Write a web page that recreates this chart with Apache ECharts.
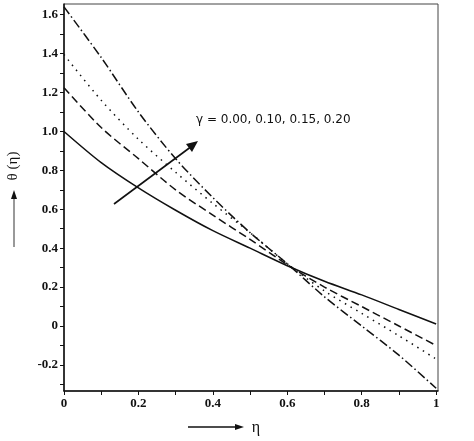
<!DOCTYPE html>
<html><head><meta charset="utf-8">
<script src="https://cdn.jsdelivr.net/npm/echarts@6/dist/echarts.min.js"></script>
<style>html,body{margin:0;padding:0;background:#fff}#c{width:474px;height:441px}</style>
</head><body><div id="c"></div>
<script>
const eta = [0, 0.1, 0.2, 0.3, 0.4, 0.5, 0.6, 0.7, 0.8, 0.9, 1.0];
const theta_g000 = [1.00, 0.84, 0.71, 0.595, 0.49, 0.40, 0.31, 0.23, 0.16, 0.085, 0.01];
const theta_g010 = [1.225, 1.02, 0.86, 0.70, 0.57, 0.445, 0.315, 0.20, 0.10, 0.0, -0.10];
const theta_g015 = [1.395, 1.16, 0.96, 0.79, 0.63, 0.48, 0.32, 0.18, 0.065, -0.05, -0.17];
const theta_g020 = [1.64, 1.38, 1.10, 0.86, 0.66, 0.48, 0.32, 0.15, 0.0, -0.15, -0.32];
const xTickLabels = [0, 0.2, 0.4, 0.6, 0.8, 1];
const xTicks = [0, 0.1, 0.2, 0.3, 0.4, 0.5, 0.6, 0.7, 0.8, 0.9, 1];
const yTickLabels = [-0.2, 0, 0.2, 0.4, 0.6, 0.8, 1.0, 1.2, 1.4, 1.6];
const yTicks = [-0.3, -0.2, -0.1, 0, 0.1, 0.2, 0.3, 0.4, 0.5, 0.6, 0.7, 0.8, 0.9, 1.0, 1.1, 1.2, 1.3, 1.4, 1.5, 1.6];
const annotation = 'γ = 0.00, 0.10, 0.15, 0.20';
const yTitle = 'θ (η)';
const xTitle = 'η';

const pair = (ys) => eta.map((x, i) => [x, ys[i]]);
const labelFont = {fontFamily: 'Liberation Serif', fontWeight: 'bold', fontSize: 13, color: '#111'};

function mk(name, ys, dash) {
  return {
    type: 'line', name, data: pair(ys), smooth: 0.3, symbol: 'none',
    lineStyle: {color: '#111', width: 1.5, type: dash},
    z: 3
  };
}

const chart = echarts.init(document.getElementById('c'), null, {renderer: 'canvas'});
chart.setOption({
  animation: false,
  backgroundColor: '#fff',
  grid: {left: 64, right: 36, top: 4, bottom: 50, show: true, borderColor: '#444', borderWidth: 1},
  xAxis: {
    type: 'value', min: 0, max: 1.005,
    axisLine: {show: true, onZero: false, lineStyle: {color: '#111', width: 1.5}},
    axisTick: {show: true, length: 4, customValues: xTicks, lineStyle: {color: '#111'}},
    axisLabel: Object.assign({customValues: xTickLabels, margin: 6, formatter: v => v === 0 ? '0' : (v === 1 ? '1' : v.toFixed(1))}, labelFont),
    splitLine: {show: false}
  },
  yAxis: {
    type: 'value', min: -0.334, max: 1.655,
    axisLine: {show: true, onZero: false, lineStyle: {color: '#111', width: 1.5}},
    axisTick: {show: true, length: 4, customValues: yTicks, lineStyle: {color: '#111'}},
    axisLabel: Object.assign({customValues: yTickLabels, margin: 6, formatter: v => Math.abs(v) < 1e-9 ? '0' : (v < 0 ? '-' + Math.abs(v).toFixed(1) : v.toFixed(1))}, labelFont),
    splitLine: {show: false}
  },
  series: [
    mk('γ = 0.00', theta_g000, 'solid'),
    mk('γ = 0.10', theta_g010, [8, 4]),
    mk('γ = 0.15', theta_g015, [1.5, 5]),
    mk('γ = 0.20', theta_g020, [9, 3, 1.5, 3])
  ],
  graphic: [
    {type: 'line', shape: {x1: 114, y1: 204, x2: 192, y2: 146}, style: {stroke: '#111', lineWidth: 1.6}},
    {type: 'polygon', shape: {points: [[198, 141], [186, 144], [192, 152]]}, style: {fill: '#111'}},
    {type: 'text', x: 196, y: 120, style: {text: annotation, font: '12px "DejaVu Sans"', fill: '#111', verticalAlign: 'middle'}},
    {type: 'line', shape: {x1: 14, y1: 247, x2: 14, y2: 198}, style: {stroke: '#555', lineWidth: 1.2}},
    {type: 'polygon', shape: {points: [[14, 190], [11, 199], [17, 199]]}, style: {fill: '#111'}},
    {type: 'text', x: 13, y: 166, rotation: Math.PI / 2, style: {text: yTitle, font: '15px "Liberation Serif"', fill: '#111', align: 'center', verticalAlign: 'middle'}},
    {type: 'line', shape: {x1: 188, y1: 427, x2: 236, y2: 427}, style: {stroke: '#111', lineWidth: 1.4}},
    {type: 'polygon', shape: {points: [[244, 427], [235, 424], [235, 430]]}, style: {fill: '#111'}},
    {type: 'text', x: 256, y: 428, style: {text: xTitle, font: '16px "Liberation Serif"', fill: '#111', align: 'center', verticalAlign: 'middle'}}
  ]
});
</script></body></html>
